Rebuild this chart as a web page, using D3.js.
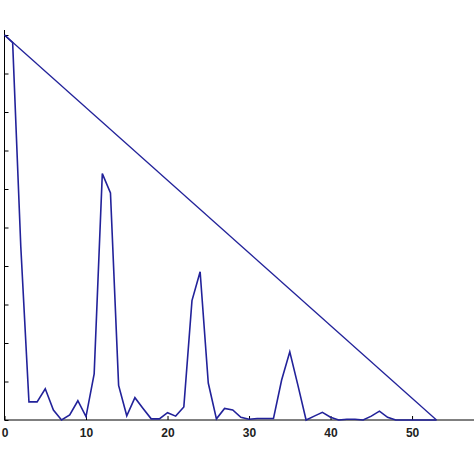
<!DOCTYPE html><html><head><meta charset="utf-8"><script src="https://cdn.jsdelivr.net/npm/d3@7"></script>
<style>body{margin:0;background:#fff}</style></head><body><svg width="474" height="474"></svg><script>
const seriesX = d3.range(0, 54);
const seriesY = [1.0,0.98,0.45,0.047,0.047,0.081,0.026,0.0,0.013,0.05,0.009,0.12,0.64,0.59,0.09,0.011,0.058,0.03,0.003,0.003,0.019,0.01,0.034,0.31,0.385,0.096,0.003,0.03,0.026,0.007,0.002,0.004,0.004,0.004,0.104,0.177,0.09,0.0,0.01,0.02,0.007,0.0,0.002,0.002,0.0,0.01,0.023,0.007,0.0,0.0,0.0,0.0,0.0,0.0];
const lineX = [0, 53];
const lineY = [1.0, 0.0];
const xTicks = [0,10,20,30,40,50];
const yTicks = d3.range(0, 1.01, 0.1);

const svg = d3.select("svg");
const x = d3.scaleLinear().domain([0, 57.6]).range([4.5, 474]);
const y = d3.scaleLinear().domain([0, 1]).range([420, 35]);
const col = "#22229a";

svg.append("line").attr("x1",x(0)).attr("x2",474).attr("y1",420).attr("y2",420).attr("stroke","#000");
svg.append("line").attr("x1",x(0)).attr("x2",x(0)).attr("y1",420).attr("y2",30).attr("stroke","#000");
const xa = svg.append("g").attr("transform","translate(0,420)")
  .call(d3.axisBottom(x).tickValues(xTicks).tickSizeInner(-4).tickSizeOuter(0).tickPadding(8));
xa.select(".domain").remove();
xa.selectAll("text").attr("font-family","Liberation Sans, Arial").attr("font-size",12).attr("font-weight","bold").attr("fill","#222");
const ya = svg.append("g").attr("transform",`translate(${x(0)},0)`)
  .call(d3.axisRight(y).tickValues(yTicks).tickSizeInner(4).tickSizeOuter(0).tickFormat(""));
ya.select(".domain").remove();

const ln = d3.line().x(d=>x(d[0])).y(d=>y(d[1]));
svg.append("path").datum(lineX.map((v,i)=>[v,lineY[i]])).attr("d",ln).attr("fill","none").attr("stroke",col).attr("stroke-width",1.3);
svg.append("path").datum(seriesX.map((v,i)=>[v,seriesY[i]])).attr("d",ln).attr("fill","none").attr("stroke",col).attr("stroke-width",1.6);
</script></body></html>
